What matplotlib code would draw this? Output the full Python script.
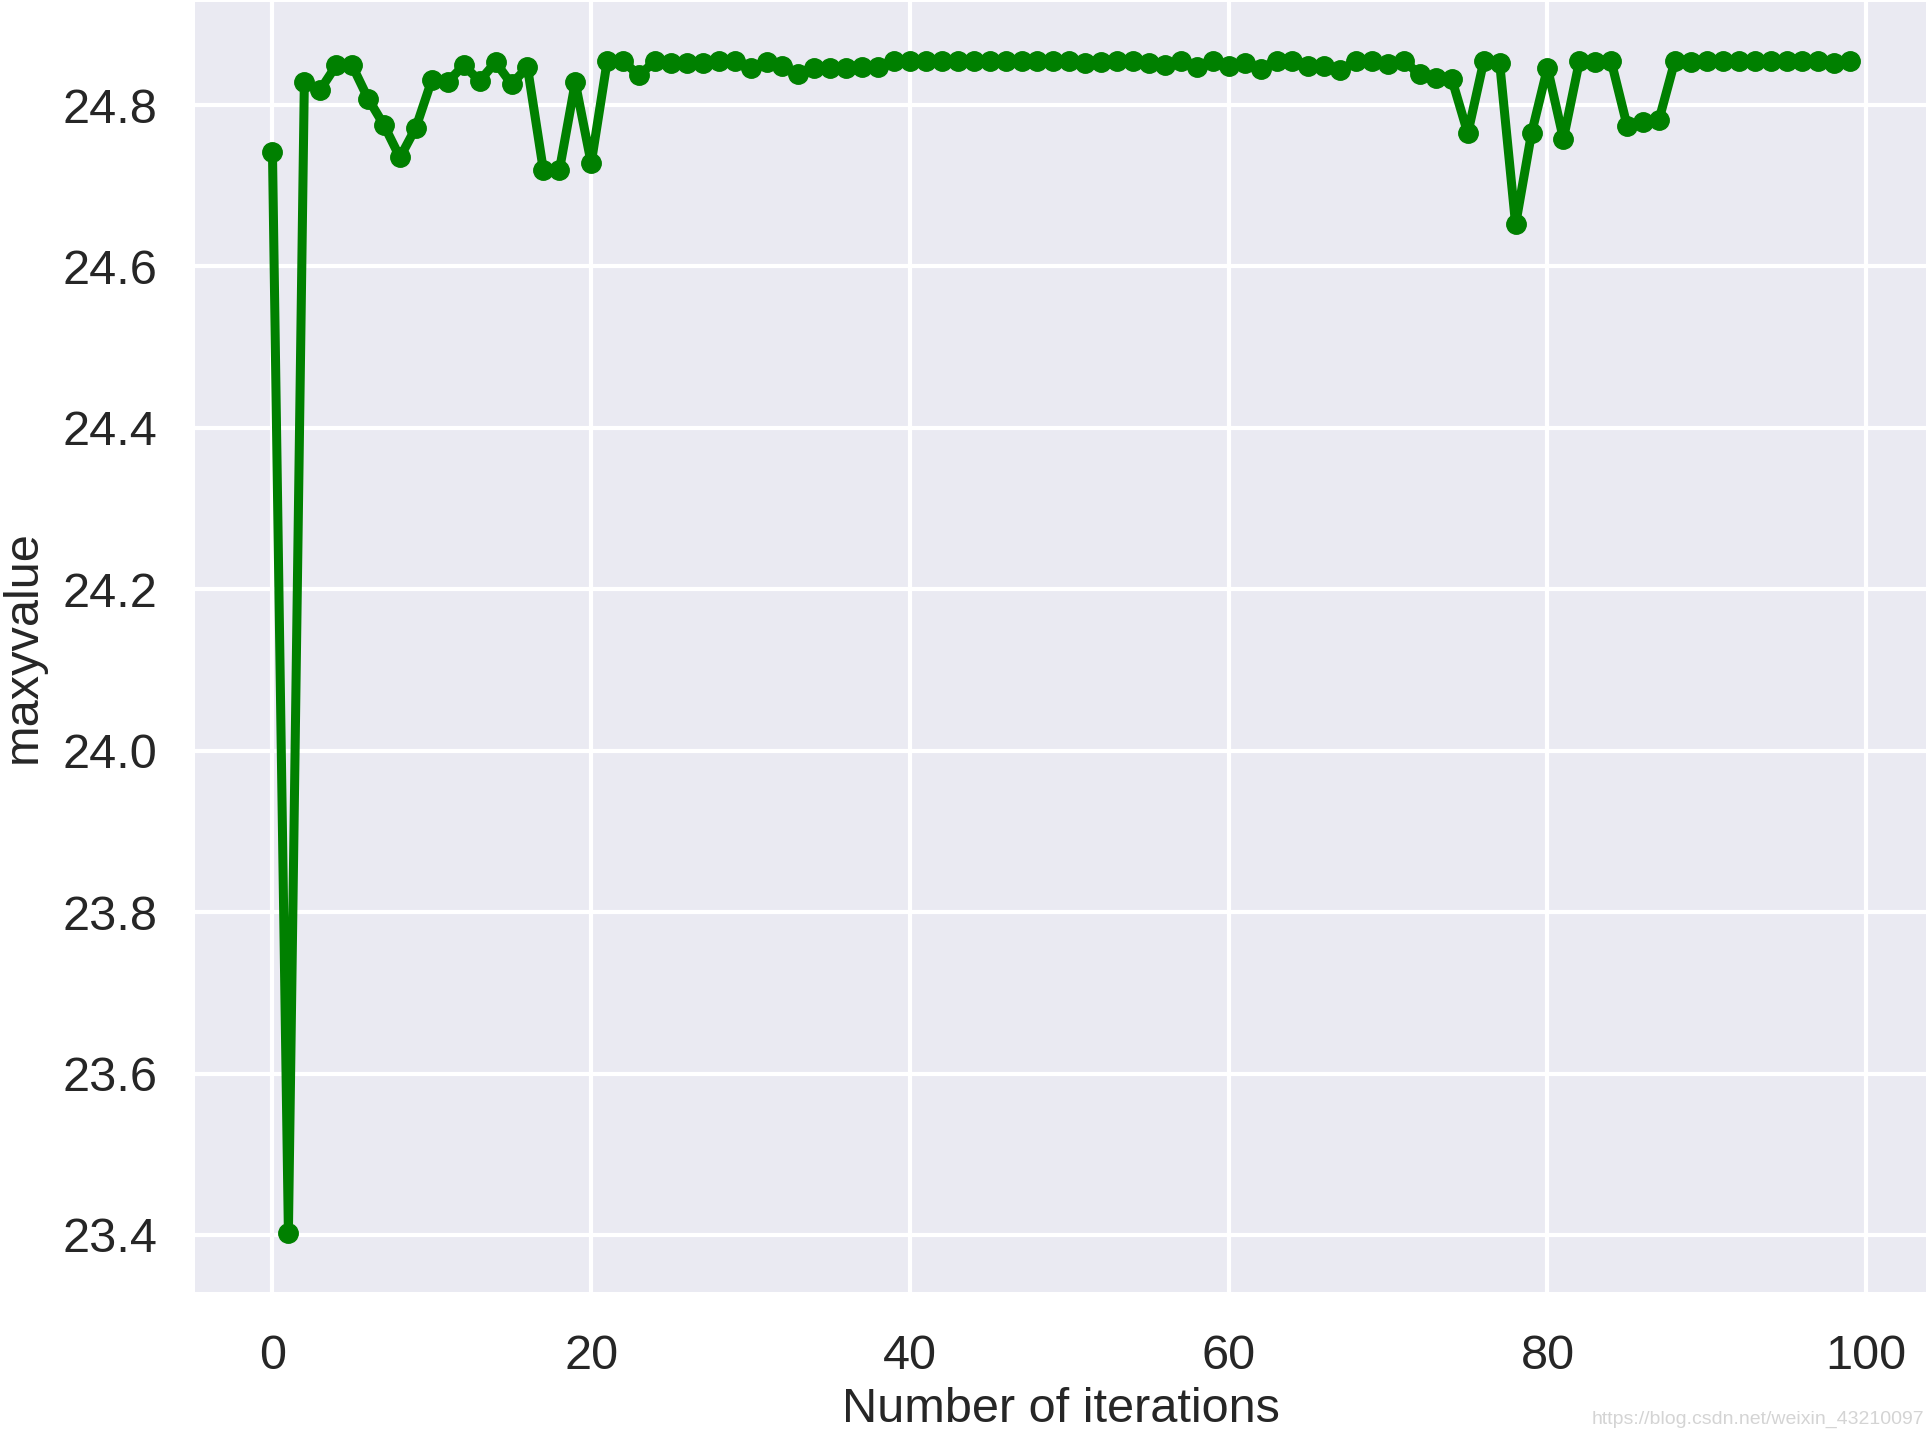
import matplotlib
matplotlib.use("Agg")
import matplotlib.pyplot as plt
import seaborn as sns
import numpy as np

iterations = list(range(100))
maxyvalue = [24.742, 23.402, 24.828, 24.819, 24.849, 24.849, 24.808, 24.775, 24.735, 24.772,
             24.831, 24.829, 24.849, 24.830, 24.853, 24.826, 24.847, 24.719, 24.719, 24.828,
             24.728, 24.854, 24.854, 24.837, 24.854, 24.852, 24.852, 24.852, 24.854, 24.854,
             24.846, 24.853, 24.848, 24.839, 24.846, 24.846, 24.846, 24.847, 24.847, 24.855,
             24.854, 24.854, 24.854, 24.854, 24.854, 24.854, 24.854, 24.854, 24.854, 24.854,
             24.854, 24.852, 24.853, 24.855, 24.854, 24.852, 24.849, 24.855, 24.847, 24.854,
             24.848, 24.852, 24.845, 24.855, 24.855, 24.848, 24.848, 24.843, 24.855, 24.854,
             24.851, 24.854, 24.838, 24.834, 24.832, 24.765, 24.854, 24.852, 24.652, 24.765,
             24.846, 24.758, 24.854, 24.853, 24.854, 24.774, 24.779, 24.782, 24.855, 24.853,
             24.854, 24.855, 24.855, 24.855, 24.855, 24.855, 24.855, 24.855, 24.852, 24.855]
xticks = [0, 20, 40, 60, 80, 100]
yticks = [23.4, 23.6, 23.8, 24.0, 24.2, 24.4, 24.6, 24.8]

sns.set_style("darkgrid")
plt.rcParams['font.family'] = ['Liberation Sans', 'DejaVu Sans']

fig = plt.figure(figsize=(19.29, 14.37), dpi=100)
ax = fig.add_axes([195/1929, 1 - 1292/1437, (1926-195)/1929, (1292-2)/1437])
ax.set_facecolor('#EAEAF2')
ax.grid(True, color='white', linewidth=3.0)
ax.set_axisbelow(True)
for s in ax.spines.values():
    s.set_visible(False)

ax.plot(iterations, maxyvalue, color='green', linewidth=6.5, marker='o', markersize=14)

ax.set_xlim(-4.86, 103.75)
ax.set_xticks(xticks)
ax.set_yticks(yticks)
ax.set_yticklabels([f"{v:.1f}" for v in yticks])
ax.tick_params(axis='both', length=0, labelsize=35, labelcolor='#262626')
ax.tick_params(axis='y', pad=27)
ax.tick_params(axis='x', pad=30)
ax.set_xlabel("Number of iterations", fontsize=35, color='#262626', labelpad=6)
ax.set_ylabel("maxyvalue", fontsize=35, color='#262626', labelpad=12)

fig.text(0.9975, 0.006, "https://blog.csdn.net/weixin_43210097", ha='right', va='bottom',
         fontsize=14, color='#d4d4d4')

fig.savefig("out.png", dpi=100)
